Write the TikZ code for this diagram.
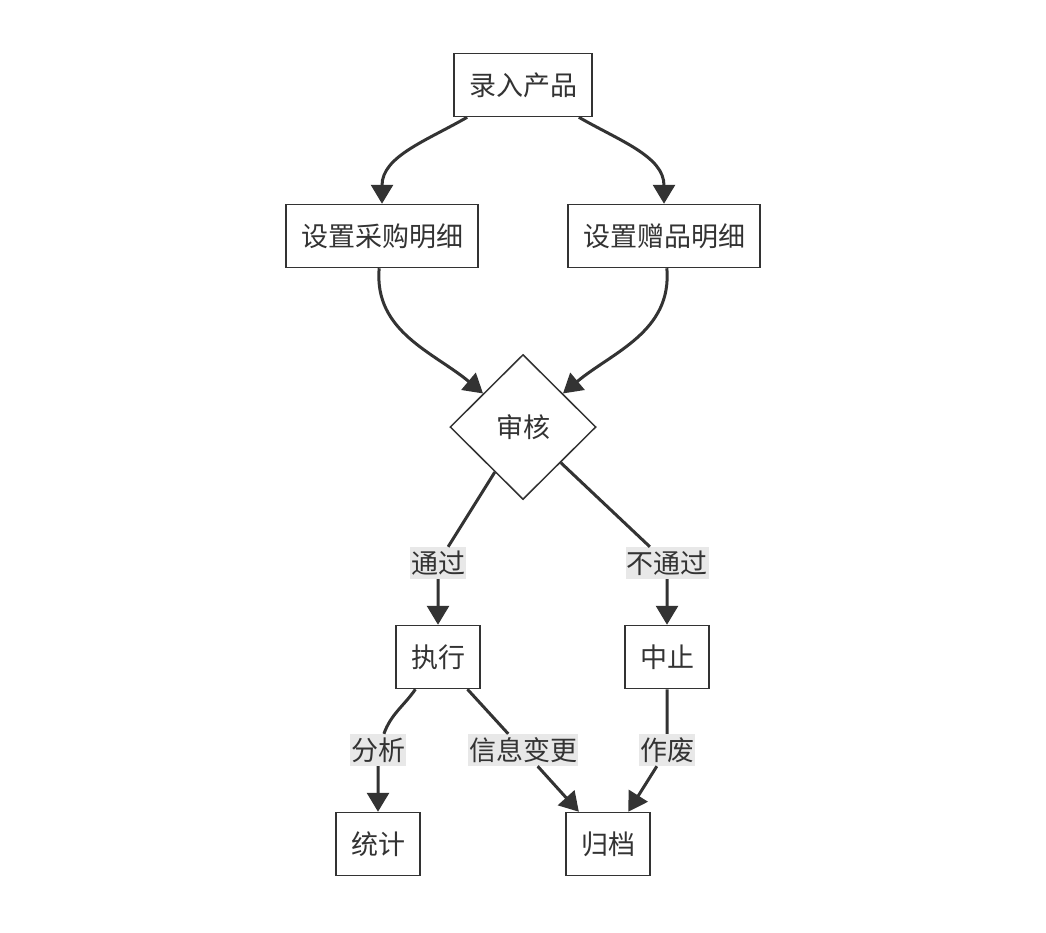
\documentclass[tikz,border=0pt]{standalone}
\usepackage{fontspec}
\setmainfont{Noto Sans CJK SC}
\usepackage{tikz}
\usetikzlibrary{arrows.meta,shapes.geometric}
\definecolor{ink}{RGB}{51,51,51}
\definecolor{tagbg}{RGB}{232,232,232}

\begin{document}
\begin{tikzpicture}[
  x=1pt,y=-1pt,
  font=\fontsize{27}{32}\selectfont,text=ink,
  block/.style={rectangle,draw=ink,line width=1.5pt,fill=white,
                minimum height=63pt,inner xsep=15pt,inner ysep=0pt},
  decision/.style={diamond,draw=ink,line width=1.5pt,fill=white,
                   minimum width=146pt,minimum height=145pt,inner sep=0pt},
  tag/.style={rectangle,fill=tagbg,minimum height=32pt,inner xsep=1pt,inner ysep=0pt},
  arrow/.style={-{Triangle[length=19pt,width=22pt]},line width=3pt,draw=ink}
]
\useasboundingbox (0,0) rectangle (1046,932);
% top node
\node[block] (entry) at (523,85) {录入产品};
% detail nodes
\node[block] (buy) at (382,236) {设置采购明细};
\node[block] (gift) at (664,236) {设置赠品明细};
% review diamond
\node[decision] (review) at (523,427) {审核};
% outcome nodes
\node[block] (run) at (438,657) {执行};
\node[block] (halt) at (667,657) {中止};
\node[block] (stats) at (378,844) {统计};
\node[block] (archive) at (608,844) {归档};
% edge labels
\node[tag] (pass) at (438,563) {通过};
\node[tag] (fail) at (667,563) {不通过};
\node[tag] (analyse) at (378,750) {分析};
\node[tag] (change) at (523,750) {信息变更};
\node[tag] (void) at (667,750) {作废};
% arrows
\draw[arrow] (entry) to[out=-150,in=90] (buy);
\draw[arrow] (entry) to[out=-30,in=90] (gift);
\draw[arrow] (buy) to[out=-95,in=140] (review);
\draw[arrow] (gift) to[out=-85,in=40] (review);
\draw[arrow] (review) -- (pass) -- (run);
\draw[arrow] (review) -- (fail) -- (halt);
\draw[arrow] (run) to[out=-125,in=70] (analyse) -- (stats);
\draw[arrow] (run) -- (change) -- (archive);
\draw[arrow] (halt) -- (void) -- (archive);
\end{tikzpicture}
\end{document}
